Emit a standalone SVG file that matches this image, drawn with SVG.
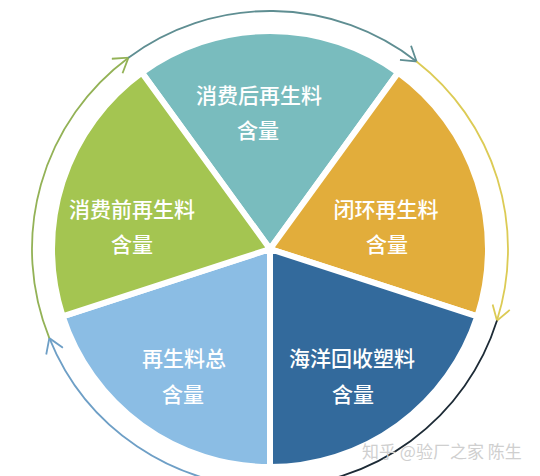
<svg xmlns="http://www.w3.org/2000/svg" width="540" height="476" viewBox="0 0 540 476">
<style>
.seg{stroke:#ffffff;stroke-width:6;stroke-linejoin:round}
.lbl{font-family:"Noto Sans CJK SC","Noto Sans",sans-serif;font-size:21px;fill:#ffffff;text-anchor:middle;font-weight:500}
.arc{fill:none;stroke-width:1.8}
.wm{font-family:"Noto Sans CJK SC","Noto Sans",sans-serif;font-size:17px;fill:#cfcfcf}
</style>
<defs>
<marker id="mGreen" viewBox="0 0 17 20" refX="15" refY="10" markerWidth="17" markerHeight="20" markerUnits="userSpaceOnUse" orient="auto"><path d="M1,1 L15,10 L1,19" fill="none" stroke="#93B256" stroke-width="1.8"/></marker>
<marker id="mTeal" viewBox="0 0 17 20" refX="15" refY="10" markerWidth="17" markerHeight="20" markerUnits="userSpaceOnUse" orient="auto"><path d="M1,1 L15,10 L1,19" fill="none" stroke="#5F8E92" stroke-width="1.8"/></marker>
<marker id="mYellow" viewBox="0 0 17 20" refX="15" refY="10" markerWidth="17" markerHeight="20" markerUnits="userSpaceOnUse" orient="auto"><path d="M1,1 L15,10 L1,19" fill="none" stroke="#DCCB55" stroke-width="1.8"/></marker>
<marker id="mBlue" viewBox="0 0 17 20" refX="15" refY="10" markerWidth="17" markerHeight="20" markerUnits="userSpaceOnUse" orient="auto"><path d="M1,1 L15,10 L1,19" fill="none" stroke="#6E9FC6" stroke-width="1.8"/></marker>
</defs>
<rect width="540" height="476" fill="#ffffff"/>
<g id="connectors">
<path class="arc" stroke="#6E9FC6" marker-end="url(#mBlue)" d="M270,487 A238,238 0 0 1 49.33,338.16"/>
<path class="arc" stroke="#93B256" marker-end="url(#mGreen)" d="M49.33,338.16 A238,238 0 0 1 128.43,57.68"/>
<path class="arc" stroke="#5F8E92" marker-end="url(#mTeal)" d="M128.43,57.68 A238,238 0 0 1 416.53,61.45"/>
<path class="arc" stroke="#DCCB55" marker-end="url(#mYellow)" d="M416.53,61.45 A238,238 0 0 1 496.99,320.57"/>
<path class="arc" stroke="#1D2B36" d="M496.99,320.57 A238,238 0 0 1 270,487"/>
</g>
<g id="post-consumer">
<path class="seg" fill="#79BCBE" d="M270,249 L141.86,72.63 A218,218 0 0 1 398.14,72.63 Z"/>
<text class="lbl" x="259" y="103">消费后再生料</text>
<text class="lbl" x="258" y="138">含量</text>
</g>
<g id="closed-loop">
<path class="seg" fill="#E2AD3B" d="M270,249 L398.14,72.63 A218,218 0 0 1 477.33,316.37 Z"/>
<text class="lbl" x="386" y="217">闭环再生料</text>
<text class="lbl" x="387" y="252">含量</text>
</g>
<g id="ocean-plastic">
<path class="seg" fill="#336A9C" d="M270,249 L477.33,316.37 A218,218 0 0 1 270,467 Z"/>
<text class="lbl" x="352" y="366">海洋回收塑料</text>
<text class="lbl" x="353" y="402">含量</text>
</g>
<g id="total-recycled">
<path class="seg" fill="#8BBDE4" d="M270,249 L270,467 A218,218 0 0 1 62.67,316.37 Z"/>
<text class="lbl" x="184" y="366">再生料总</text>
<text class="lbl" x="183" y="402">含量</text>
</g>
<g id="pre-consumer">
<path class="seg" fill="#A4C551" d="M270,249 L62.67,316.37 A218,218 0 0 1 141.86,72.63 Z"/>
<text class="lbl" x="132" y="217">消费前再生料</text>
<text class="lbl" x="132" y="252">含量</text>
</g>
<text class="wm" x="362" y="458">知乎 @验厂之家 陈生</text>
</svg>
